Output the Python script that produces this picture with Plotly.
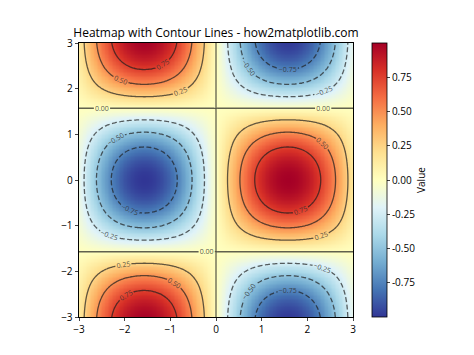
import numpy as np
import plotly.graph_objects as go

# Grid and field (heatmap of sin(x)*cos(y) on [-3, 3] x [-3, 3])
x_vals = np.linspace(-3, 3, 200)
y_vals = np.linspace(-3, 3, 200)
X, Y = np.meshgrid(x_vals, y_vals)
Z = np.sin(X) * np.cos(Y)

neg_levels = [-0.75, -0.50, -0.25]
pos_levels = [0.00, 0.25, 0.50, 0.75]
axis_ticks = [-3, -2, -1, 0, 1, 2, 3]
cbar_ticks = [-0.75, -0.50, -0.25, 0.00, 0.25, 0.50, 0.75]
cbar_ticktext = ["-0.75", "-0.50", "-0.25", "0.00", "0.25", "0.50", "0.75"]

rdylbu_r = ["#313695", "#4575b4", "#74add1", "#abd9e9", "#e0f3f8", "#ffffbf",
            "#fee090", "#fdae61", "#f46d43", "#d73027", "#a50026"]
colorscale = [[i / (len(rdylbu_r) - 1), c] for i, c in enumerate(rdylbu_r)]

FONT = "Open Sans, DejaVu Sans, sans-serif"
W, H = 474, 355
L, R, T, B = 79, 121, 43, 38
pw = W - L - R

fig = go.Figure()
fig.add_trace(go.Heatmap(
    x=x_vals, y=y_vals, z=Z, colorscale=colorscale, zsmooth="best",
    zmin=float(Z.min()), zmax=float(Z.max()),
    colorbar=dict(
        thickness=15, len=1, lenmode="fraction", y=0.5, yanchor="middle",
        x=(372 - L) / pw, xanchor="left", xpad=0, ypad=0,
        tickvals=cbar_ticks, ticktext=cbar_ticktext, ticks="outside", ticklen=3,
        tickfont=dict(size=10, family=FONT, color="black"),
        title=dict(text="Value", side="right", font=dict(size=10, family=FONT, color="black")),
        outlinewidth=0.8, outlinecolor="black",
    ),
))

def contour_trace(levels, dash):
    return go.Contour(
        x=x_vals, y=y_vals, z=Z, showscale=False, hoverinfo="skip",
        autocontour=False,
        contours=dict(start=levels[0], end=levels[-1], size=0.25, coloring="none",
                      showlabels=True,
                      labelfont=dict(size=7, family=FONT, color="rgba(50,50,50,0.85)"),
                      labelformat=".2f"),
        line=dict(color="rgba(30,30,30,0.7)", width=1.3, dash=dash),
    )

fig.add_trace(contour_trace(neg_levels, "5px,2.5px"))
fig.add_trace(contour_trace(pos_levels, "solid"))

axis_common = dict(
    range=[-3, 3], tickvals=axis_ticks, ticks="outside", ticklen=3.5,
    showline=True, linecolor="black", linewidth=0.8, mirror=True,
    showgrid=False, zeroline=False,
    tickfont=dict(size=10, family=FONT, color="black"),
)
fig.update_xaxes(**axis_common)
fig.update_yaxes(**axis_common)

fig.update_layout(
    width=W, height=H, margin=dict(l=L, r=R, t=T, b=B),
    paper_bgcolor="white", plot_bgcolor="white",
    title=dict(text="Heatmap with Contour Lines - how2matplotlib.com",
               x=(L + pw / 2) / W, xanchor="center", y=1 - 33 / H, yanchor="middle",
               font=dict(size=12, family=FONT, color="black")),
    showlegend=False,
)

fig.write_html("out.html")
